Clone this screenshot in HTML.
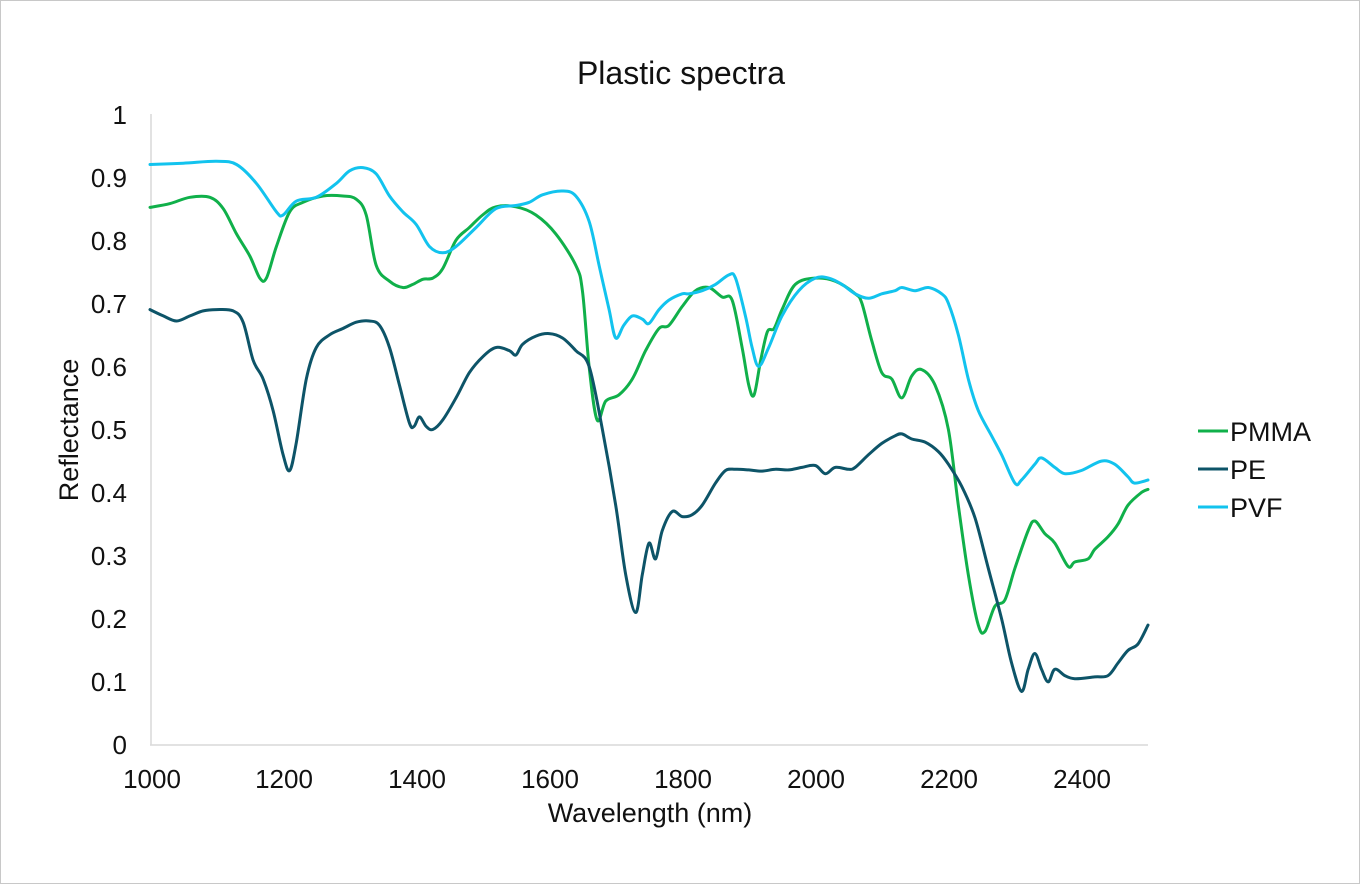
<!DOCTYPE html>
<html><head><meta charset="utf-8"><style>
html,body{margin:0;padding:0;background:#fff}
svg{display:block}
text{font-family:"Liberation Sans",Arial,sans-serif;fill:#111}
</style></head><body>
<svg id="s" width="1360" height="884" viewBox="0 0 1360 884" xmlns="http://www.w3.org/2000/svg">
<rect x="0.5" y="0.5" width="1359" height="883" fill="#fff" stroke="#c8c8c8"/>
<text x="681" y="84" font-size="32" text-anchor="middle">Plastic spectra</text>
<line x1="151" y1="114" x2="151" y2="745" stroke="#d9d9d9" stroke-width="1.5"/>
<line x1="150" y1="745" x2="1148" y2="745" stroke="#d9d9d9" stroke-width="1.5"/>
<g font-size="26" text-anchor="end">
<text x="127" y="754">0</text><text x="127" y="691">0.1</text><text x="127" y="628">0.2</text>
<text x="127" y="565">0.3</text><text x="127" y="502">0.4</text><text x="127" y="439">0.5</text>
<text x="127" y="376">0.6</text><text x="127" y="313">0.7</text><text x="127" y="250">0.8</text>
<text x="127" y="187">0.9</text><text x="127" y="124">1</text>
</g>
<g font-size="26" text-anchor="middle">
<text x="152" y="788">1000</text><text x="284" y="788">1200</text><text x="417" y="788">1400</text>
<text x="550" y="788">1600</text><text x="683" y="788">1800</text><text x="816" y="788">2000</text>
<text x="949" y="788">2200</text><text x="1082" y="788">2400</text>
</g>
<text x="650" y="822" font-size="27" text-anchor="middle">Wavelength (nm)</text>
<text transform="translate(78,430) rotate(-90)" font-size="27" text-anchor="middle">Reflectance</text>
<g font-size="27">
<line x1="1198" y1="431" x2="1228" y2="431" stroke="#10b04a" stroke-width="3"/><text x="1230" y="441">PMMA</text>
<line x1="1198" y1="469" x2="1228" y2="469" stroke="#0d5468" stroke-width="3"/><text x="1230" y="479">PE</text>
<line x1="1198" y1="507" x2="1228" y2="507" stroke="#12c3ee" stroke-width="3"/><text x="1230" y="517">PVF</text>
</g>
<g id="lines" fill="none" stroke-width="3" stroke-linejoin="round" stroke-linecap="round"></g>
</svg>
<script>
const pvf=[1000,.92,1050,.922,1100,.925,1130,.92,1160,.89,1190,.845,1200,.84,1220,.862,1250,.868,1280,.89,1300,.91,1320,.915,1340,.905,1360,.87,1380,.845,1400,.825,1420,.79,1440,.78,1460,.79,1490,.82,1520,.85,1550,.855,1570,.86,1590,.872,1620,.878,1640,.87,1660,.83,1675,.76,1690,.69,1700,.645,1712,.665,1725,.68,1740,.675,1750,.668,1765,.69,1780,.705,1800,.715,1810,.715,1830,.72,1850,.73,1870,.745,1880,.74,1895,.68,1905,.63,1915,.6,1930,.63,1950,.68,1975,.72,2000,.74,2020,.74,2040,.73,2060,.715,2080,.708,2100,.715,2120,.72,2130,.725,2150,.72,2170,.725,2190,.715,2200,.7,2215,.65,2230,.58,2245,.53,2265,.49,2280,.46,2300,.415,2310,.42,2330,.445,2340,.455,2360,.44,2375,.43,2400,.435,2430,.45,2450,.445,2470,.425,2480,.415,2500,.42];
const pmma=[1000,.852,1030,.858,1060,.868,1090,.868,1110,.85,1130,.81,1150,.775,1165,.74,1175,.74,1190,.79,1210,.845,1230,.86,1260,.87,1290,.87,1310,.865,1325,.84,1340,.76,1360,.735,1380,.725,1395,.73,1410,.738,1425,.74,1440,.755,1460,.8,1480,.82,1500,.84,1520,.853,1550,.853,1580,.84,1610,.81,1640,.76,1650,.72,1660,.6,1672,.515,1685,.545,1705,.555,1725,.58,1745,.625,1765,.66,1780,.665,1800,.695,1820,.72,1840,.725,1860,.71,1875,.705,1890,.63,1900,.57,1908,.555,1918,.61,1928,.655,1938,.66,1950,.69,1970,.73,2000,.74,2030,.735,2060,.715,2070,.7,2085,.64,2100,.59,2115,.58,2130,.55,2145,.585,2160,.595,2180,.57,2200,.5,2215,.38,2230,.27,2245,.19,2255,.18,2270,.22,2285,.23,2300,.28,2320,.34,2330,.355,2345,.335,2360,.32,2380,.283,2390,.29,2410,.295,2420,.31,2440,.33,2455,.35,2470,.38,2490,.4,2500,.405];
const pe=[1000,.69,1020,.68,1040,.672,1060,.68,1080,.688,1100,.69,1125,.688,1140,.67,1155,.61,1170,.58,1185,.53,1200,.46,1210,.435,1220,.48,1235,.58,1250,.63,1270,.65,1290,.66,1310,.67,1330,.672,1345,.665,1360,.63,1375,.57,1390,.51,1397,.505,1405,.52,1415,.505,1425,.5,1440,.515,1460,.55,1480,.59,1500,.615,1520,.63,1540,.625,1550,.618,1560,.635,1580,.648,1600,.652,1620,.645,1640,.625,1660,.6,1680,.5,1700,.38,1715,.27,1730,.21,1740,.27,1750,.32,1760,.295,1770,.34,1785,.37,1800,.362,1815,.365,1830,.38,1850,.415,1865,.435,1880,.437,1900,.436,1920,.434,1940,.437,1960,.436,1980,.44,2000,.443,2015,.43,2030,.44,2050,.437,2060,.44,2080,.46,2100,.478,2120,.49,2130,.493,2145,.485,2165,.48,2185,.465,2200,.445,2220,.41,2240,.36,2260,.28,2280,.2,2295,.13,2310,.085,2320,.12,2330,.145,2340,.12,2350,.1,2360,.12,2375,.11,2390,.105,2420,.108,2440,.11,2455,.13,2470,.15,2485,.16,2500,.19];
function path(a){const p=[];for(let i=0;i<a.length;i+=2)p.push([150+(a[i]-1000)*0.6653,745-a[i+1]*631]);
let d="M"+p[0][0].toFixed(1)+","+p[0][1].toFixed(1);
for(let i=0;i<p.length-1;i++){const p0=p[Math.max(0,i-1)],p1=p[i],p2=p[i+1],p3=p[Math.min(p.length-1,i+2)];
const c1=[p1[0]+(p2[0]-p0[0])/6,p1[1]+(p2[1]-p0[1])/6],c2=[p2[0]-(p3[0]-p1[0])/6,p2[1]-(p3[1]-p1[1])/6];
d+=" C"+c1.map(v=>v.toFixed(1))+" "+c2.map(v=>v.toFixed(1))+" "+p2.map(v=>v.toFixed(1));}
return d;}
const g=document.getElementById("lines");
[[pmma,"#10b04a"],[pe,"#0d5468"],[pvf,"#12c3ee"]].forEach(([a,c])=>{const e=document.createElementNS("http://www.w3.org/2000/svg","path");e.setAttribute("d",path(a));e.setAttribute("stroke",c);g.appendChild(e);});
</script>
</body></html>
